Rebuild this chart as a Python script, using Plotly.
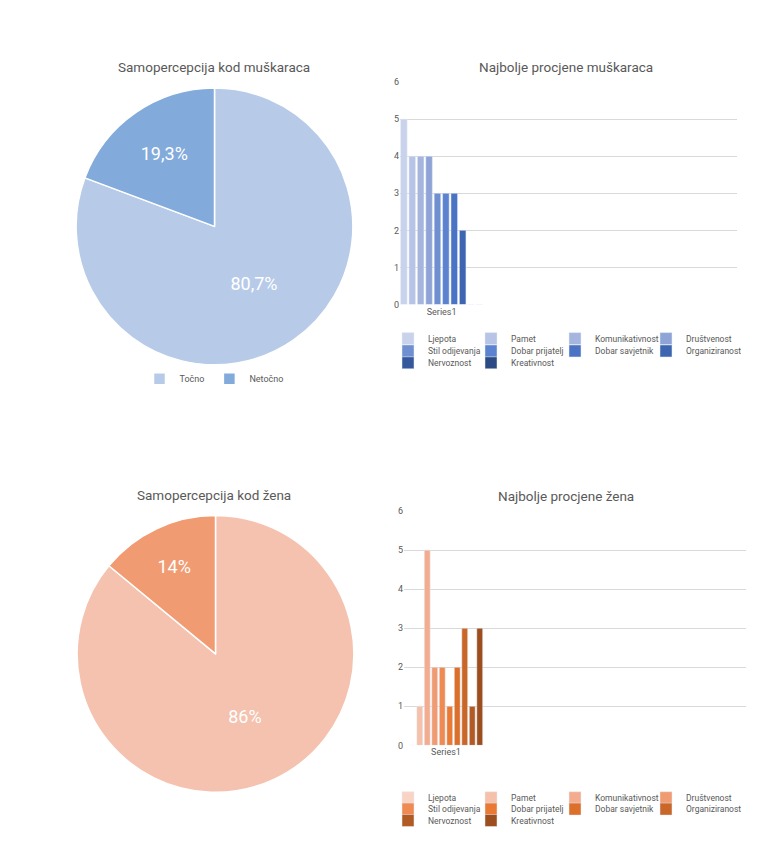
import plotly.graph_objects as go

W, H = 768, 866

# ---------------- data ----------------
pie_labels = ["Točno", "Netočno"]
men_pie_values = [80.7, 19.3]
women_pie_values = [86, 14]

qualities = ["Ljepota", "Pamet", "Komunikativnost", "Društvenost",
             "Stil odijevanja", "Dobar prijatelj", "Dobar savjetnik",
             "Organiziranost", "Nervoznost", "Kreativnost"]
men_scores = [5, 4, 4, 4, 3, 3, 3, 2, 0, 0]
women_scores = [0, 1, 5, 2, 2, 1, 2, 3, 1, 3]
category = ["Series1"]

men_pie_colors = ["#b7cbe8", "#82aadb"]
women_pie_colors = ["#f4c2ae", "#f09b72"]
men_bar_colors = ["#c9d2eb", "#b7c4e5", "#a5b5de", "#8ea4d6", "#6f8fd0",
                  "#5b83cf", "#4a73c4", "#3d65b0", "#34589b", "#2c4b85"]
women_bar_colors = ["#f9d4c4", "#f5c1aa", "#f3ad8e", "#f09b72", "#ee8a52",
                    "#ea7a33", "#dc6f2a", "#c96628", "#b25a23", "#9c4e1e"]

FONT = "Roboto"
GREY = "#595959"


def fx(px):
    return px / W


def fy(py):
    return 1 - py / H


fig = go.Figure()

# ---------------- pies ----------------
fig.add_trace(go.Pie(
    labels=pie_labels, values=men_pie_values, sort=False, direction="clockwise",
    rotation=0, marker=dict(colors=men_pie_colors, line=dict(color="white", width=1.5)),
    texttemplate="%{percent:.1%}", textposition="inside",
    insidetextfont=dict(color="white", size=18, family=FONT),
    domain=dict(x=[fx(74.5), fx(354.5)], y=[fy(364), fy(84)]),
    legend="legend", hoverinfo="label+percent"))
fig.add_trace(go.Pie(
    labels=pie_labels, values=women_pie_values, sort=False, direction="clockwise",
    rotation=0, marker=dict(colors=women_pie_colors, line=dict(color="white", width=1.5)),
    texttemplate="%{percent:.0%}", textposition="inside",
    insidetextfont=dict(color="white", size=18, family=FONT),
    domain=dict(x=[fx(75.5), fx(355.5)], y=[fy(796.5), fy(516.5)]),
    legend="legend2", hoverinfo="label+percent"))

# ---------------- bars ----------------
# one legend per legend entry so the four columns can be placed like the original
text_x = [428, 511, 595, 686]       # text start of the four legend columns
men_rows_y = [337.5, 350, 362]
women_rows_y = [802, 813.5, 825]

legend_defs = {}
leg_id = 3


def add_bars(scores, colors, xa, ya, rows_y):
    global leg_id
    for i, (q, v, c) in enumerate(zip(qualities, scores, colors)):
        name = "legend" + str(leg_id)
        fig.add_trace(go.Bar(x=category, y=[v], name=q, marker_color=c,
                             xaxis=xa, yaxis=ya, legend=name))
        col, row = i % 4, i // 4
        legend_defs[name] = dict(
            x=fx(text_x[col] - 40), y=fy(rows_y[row]), xanchor="left", yanchor="middle",
            orientation="h", bgcolor="rgba(0,0,0,0)",
            font=dict(family=FONT, size=8.5, color=GREY))
        leg_id += 1


add_bars(men_scores, men_bar_colors, "x", "y", men_rows_y)
add_bars(women_scores, women_bar_colors, "x2", "y2", women_rows_y)

axis_font = dict(family=FONT, size=9, color=GREY)

layout_legends = {
    "legend": dict(x=fx(214), y=fy(378), xanchor="center", yanchor="middle",
                   orientation="h", bgcolor="rgba(0,0,0,0)",
                   font=dict(family=FONT, size=9, color=GREY)),
    "legend2": dict(x=fx(214), y=fy(811), xanchor="center", yanchor="middle",
                    orientation="h", bgcolor="rgba(0,0,0,0)",
                    font=dict(family=FONT, size=9, color=GREY)),
}
layout_legends.update(legend_defs)

fig.update_layout(
    width=W, height=H, margin=dict(l=0, r=0, t=0, b=0),
    paper_bgcolor="white", plot_bgcolor="white",
    separators=", ",
    barmode="group", bargap=0, bargroupgap=0.22,
    showlegend=True,
    xaxis=dict(domain=[fx(400), fx(737)], anchor="y", type="category",
               range=[-0.496, 3.516], showgrid=False, zeroline=False, showline=False,
               ticks="", tickfont=axis_font),
    yaxis=dict(domain=[fy(303), fy(78)], anchor="x", range=[0, 6], dtick=1,
               showgrid=True, gridcolor="#d9d9d9", gridwidth=1, zeroline=False,
               showline=False, ticks="", tickfont=axis_font),
    xaxis2=dict(domain=[fx(404), fx(746)], anchor="y2", type="category",
                range=[-0.56, 4.0], showgrid=False, zeroline=False, showline=False,
                ticks="", tickfont=axis_font),
    yaxis2=dict(domain=[fy(749), fy(512)], anchor="x2", range=[0, 6], dtick=1,
                showgrid=True, gridcolor="#d9d9d9", gridwidth=1, zeroline=False,
                showline=False, ticks="", tickfont=axis_font),
    **layout_legends,
)

title_font = dict(family=FONT, size=13.5, color=GREY)
for txt, x, y in [("Samopercepcija kod muškaraca", 214, 63),
                  ("Najbolje procjene muškaraca", 566, 63),
                  ("Samopercepcija kod žena", 214, 496),
                  ("Najbolje procjene žena", 566, 497)]:
    fig.add_annotation(text=txt, x=fx(x), y=fy(y), xref="paper", yref="paper",
                       xanchor="center", yanchor="middle", showarrow=False,
                       font=title_font)

fig.write_html("out.html")
